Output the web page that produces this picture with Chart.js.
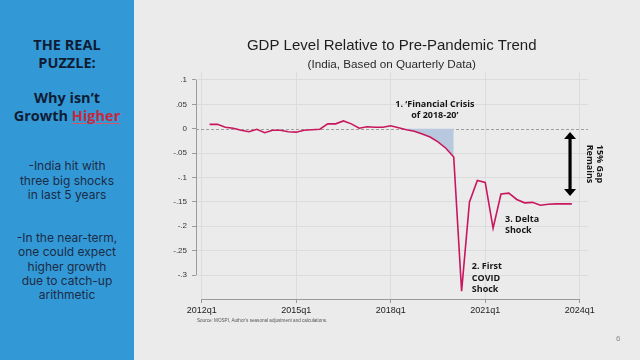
<!DOCTYPE html>
<html>
<head>
<meta charset="utf-8">
<script src="https://cdn.jsdelivr.net/npm/chart.js@4.4.1/dist/chart.umd.min.js"></script>
<style>
  html, body { margin: 0; padding: 0; width: 640px; height: 360px; overflow: hidden; background: #ebebeb; }
  #panel { position: absolute; left: 0; top: 0; width: 134px; height: 360px; background: #3399d6; }
  .ln { position: absolute; left: 0; width: 134px; text-align: center; white-space: nowrap; }
  .hd { font-family: "Open Sans", sans-serif; font-weight: 700; font-size: 14.5px; color: #0e1c35; line-height: 18px; }
  .bd { font-family: "Inter", sans-serif; font-weight: 400; font-size: 12px; color: #1c2b47; line-height: 14px; }
  .red { color: #c8283c; text-decoration: underline; text-decoration-color: #d05a68; text-decoration-thickness: 1px; text-underline-offset: 2px; }
  #wrap { position: absolute; left: 134px; top: 0; width: 506px; height: 360px; }
  #pg { position: absolute; left: 616px; top: 334px; font-family: "Liberation Sans", sans-serif; font-size: 8px; color: #8a8a8a; }
</style>
</head>
<body>
<div id="panel">
  <div class="ln hd" style="top:36px">THE REAL</div>
  <div class="ln hd" style="top:54px">PUZZLE:</div>
  <div class="ln hd" style="top:89px">Why isn’t</div>
  <div class="ln hd" style="top:107px">Growth <span class="red">Higher</span></div>
  <div class="ln bd" style="top:159px">-India hit with</div>
  <div class="ln bd" style="top:174px">three big shocks</div>
  <div class="ln bd" style="top:188px">in last 5 years</div>
  <div class="ln bd" style="top:231px">-In the near-term,</div>
  <div class="ln bd" style="top:245px">one could expect</div>
  <div class="ln bd" style="top:260px">higher growth</div>
  <div class="ln bd" style="top:274px">due to catch-up</div>
  <div class="ln bd" style="top:288px">arithmetic</div>
</div>
<div id="wrap"><canvas id="c" width="506" height="360"></canvas></div>
<div id="pg">6</div>
<script>
// ---- data ----
const quarters = [
  '2012q2','2012q3','2012q4',
  '2013q1','2013q2','2013q3','2013q4',
  '2014q1','2014q2','2014q3','2014q4',
  '2015q1','2015q2','2015q3','2015q4',
  '2016q1','2016q2','2016q3','2016q4',
  '2017q1','2017q2','2017q3','2017q4',
  '2018q1','2018q2','2018q3','2018q4',
  '2019q1','2019q2','2019q3','2019q4',
  '2020q1','2020q2','2020q3','2020q4',
  '2021q1','2021q2','2021q3','2021q4',
  '2022q1','2022q2','2022q3','2022q4',
  '2023q1','2023q2','2023q3','2023q4'
];
const gdpGap = [
  0.009, 0.009, 0.003,
  0.001, -0.003, -0.006, -0.001,
  -0.008, -0.003, -0.003, -0.006,
  -0.007, -0.003, -0.002, -0.001,
  0.010, 0.010, 0.016, 0.010,
  0.001, 0.004, 0.003, 0.003,
  0.006, 0.002, -0.002, -0.005,
  -0.011, -0.017, -0.027, -0.040,
  -0.058, -0.333, -0.150, -0.106,
  -0.110, -0.204, -0.134, -0.132,
  -0.145, -0.152, -0.151, -0.157,
  -0.155, -0.154, -0.154, -0.154
];
const shadedQuarters = ['2018q3','2018q4','2019q1','2019q2','2019q3','2019q4','2020q1'];
const xTickLabels = ['2012q1','2015q1','2018q1','2021q1','2024q1'];
const yTickValues = [0.1, 0.05, 0, -0.05, -0.1, -0.15, -0.2, -0.25, -0.3];

// quarter label -> index (2012q1 = 0)
function qIndex(lbl) {
  const y = parseInt(lbl.slice(0, 4), 10), q = parseInt(lbl.slice(5), 10);
  return (y - 2012) * 4 + (q - 1);
}
const lineData = quarters.map((q, i) => ({ x: qIndex(q), y: gdpGap[i] }));
const shadeData = shadedQuarters.map(q => ({ x: qIndex(q), y: gdpGap[quarters.indexOf(q)] }));
const xTickValues = xTickLabels.map(qIndex);

function fmtY(v) {
  if (Math.abs(v) < 1e-9) return '0';
  return (v < 0 ? '-' : '') + String(Math.abs(v)).replace(/^0/, '');
}

const overlay = {
  id: 'overlay',
  beforeDatasetsDraw(chart) {
    const { ctx, chartArea: a, scales: { x, y } } = chart;
    ctx.save();
    // dashed zero line
    ctx.strokeStyle = '#8a8a8a';
    ctx.lineWidth = 0.8;
    ctx.setLineDash([3, 2]);
    const y0 = Math.round(y.getPixelForValue(0)) + 0.5;
    ctx.beginPath(); ctx.moveTo(a.left, y0); ctx.lineTo(a.right, y0); ctx.stroke();
    ctx.setLineDash([]);
    // axis lines
    ctx.strokeStyle = '#9a9a9a';
    ctx.lineWidth = 1;
    const ax = Math.round(a.left) + 0.5;
    ctx.beginPath();
    ctx.moveTo(ax, y.getPixelForValue(yTickValues[0]));
    ctx.lineTo(ax, y.getPixelForValue(yTickValues[yTickValues.length - 1]));
    ctx.stroke();
    const ay = Math.round(a.bottom) + 0.5;
    ctx.beginPath();
    ctx.moveTo(x.getPixelForValue(xTickValues[0]), ay);
    ctx.lineTo(x.getPixelForValue(xTickValues[xTickValues.length - 1]), ay);
    ctx.stroke();
    ctx.restore();
  },
  afterDraw(chart) {
    const { ctx, chartArea: a, scales: { x, y } } = chart;
    ctx.save();
    // titles
    const cx = (x.getPixelForValue(xTickValues[0]) + x.getPixelForValue(xTickValues[4])) / 2 + 1;
    ctx.fillStyle = '#1e1e1e';
    ctx.textAlign = 'center';
    ctx.textBaseline = 'middle';
    ctx.font = '15px "Liberation Sans", Arial, sans-serif';
    ctx.fillText('GDP Level Relative to Pre-Pandemic Trend', cx, 46);
    ctx.fillStyle = '#2a2a2a';
    ctx.font = '11.7px "Liberation Sans", Arial, sans-serif';
    ctx.fillText('(India, Based on Quarterly Data)', cx, 64.5);

    // annotations
    ctx.fillStyle = '#161616';
    ctx.font = 'bold 9px "Open Sans", sans-serif';
    ctx.textAlign = 'center';
    ctx.fillText('1. ‘Financial Crisis', x.getPixelForValue(29.6), y.getPixelForValue(0.0508));
    ctx.fillText('of 2018-20’', x.getPixelForValue(29.6), y.getPixelForValue(0.0282));
    ctx.textAlign = 'left';
    const x2 = x.getPixelForValue(34.29);
    ctx.fillText('2. First', x2, y.getPixelForValue(-0.283));
    ctx.fillText('COVID', x2, y.getPixelForValue(-0.3067));
    ctx.fillText('Shock', x2, y.getPixelForValue(-0.3292));
    const x3 = x.getPixelForValue(38.51);
    ctx.fillText('3. Delta', x3, y.getPixelForValue(-0.1851));
    ctx.fillText('Shock', x3, y.getPixelForValue(-0.2077));

    // double arrow
    const axp = x.getPixelForValue(46.77);
    const top = y.getPixelForValue(-0.0065), bot = y.getPixelForValue(-0.138);
    const hw = 6, hh = 7;
    ctx.fillStyle = '#000';
    ctx.strokeStyle = '#000';
    ctx.lineWidth = 3.2;
    ctx.beginPath(); ctx.moveTo(axp, top + hh - 1); ctx.lineTo(axp, bot - hh + 1); ctx.stroke();
    ctx.beginPath(); ctx.moveTo(axp, top); ctx.lineTo(axp - hw, top + hh); ctx.lineTo(axp + hw, top + hh); ctx.closePath(); ctx.fill();
    ctx.beginPath(); ctx.moveTo(axp, bot); ctx.lineTo(axp - hw, bot - hh); ctx.lineTo(axp + hw, bot - hh); ctx.closePath(); ctx.fill();

    // rotated gap label
    const gy = y.getPixelForValue(-0.0723);
    ctx.font = 'bold 9px "Open Sans", sans-serif';
    ctx.fillStyle = '#161616';
    ctx.textAlign = 'center';
    ctx.textBaseline = 'middle';
    [['15% Gap', 50.57], ['Remains', 49.3]].forEach(([t, q]) => {
      ctx.save();
      ctx.translate(x.getPixelForValue(q), gy);
      ctx.rotate(Math.PI / 2);
      ctx.fillText(t, 0, 0);
      ctx.restore();
    });

    // source
    ctx.font = '4.6px "Liberation Sans", Arial, sans-serif';
    ctx.fillStyle = '#555';
    ctx.textAlign = 'left';
    ctx.fillText('Source: MOSPI, Author’s seasonal adjustment and calculations.', a.left + 1, a.bottom + 22);
    ctx.restore();
  }
};

new Chart(document.getElementById('c'), {
  type: 'line',
  data: {
    datasets: [
      {
        data: lineData,
        borderColor: '#c8175d',
        borderWidth: 1.6,
        pointRadius: 0,
        tension: 0,
        fill: false,
        order: 1
      },
      {
        data: shadeData,
        borderColor: 'rgba(0,0,0,0)',
        borderWidth: 0,
        backgroundColor: '#b8c8de',
        pointRadius: 0,
        tension: 0,
        fill: 'origin',
        order: 2
      }
    ]
  },
  options: {
    responsive: false,
    animation: false,
    events: [],
    layout: { padding: { left: 0, top: 72, right: 52, bottom: 0 } },
    plugins: { legend: { display: false }, tooltip: { enabled: false }, title: { display: false } },
    scales: {
      x: {
        type: 'linear',
        min: -0.724,
        max: 49.05,
        afterBuildTicks: s => { s.ticks = xTickValues.map(v => ({ value: v })); },
        afterFit: s => { s.height = 61; },
        border: { display: false },
        grid: { color: '#dcdcdc', lineWidth: 1, drawTicks: true, tickLength: 4, tickColor: '#9a9a9a' },
        ticks: {
          autoSkip: false, maxRotation: 0, padding: 2, color: '#222',
          font: { family: '"Liberation Sans", Arial, sans-serif', size: 9 },
          callback: v => xTickLabels[xTickValues.indexOf(v)]
        }
      },
      y: {
        type: 'linear',
        min: -0.3492,
        max: 0.1164,
        afterBuildTicks: s => { s.ticks = yTickValues.map(v => ({ value: v })); },
        afterFit: s => { s.width = 62; },
        border: { display: false },
        grid: {
          color: c => (c.tick && Math.abs(c.tick.value) < 1e-9) ? 'rgba(0,0,0,0)' : '#dcdcdc',
          lineWidth: 1, drawTicks: true, tickLength: 4, tickColor: '#9a9a9a'
        },
        ticks: {
          padding: 5, color: '#333',
          font: { family: '"Liberation Sans", Arial, sans-serif', size: 8 },
          callback: v => fmtY(v)
        }
      }
    }
  },
  plugins: [overlay]
});
</script>
</body>
</html>
